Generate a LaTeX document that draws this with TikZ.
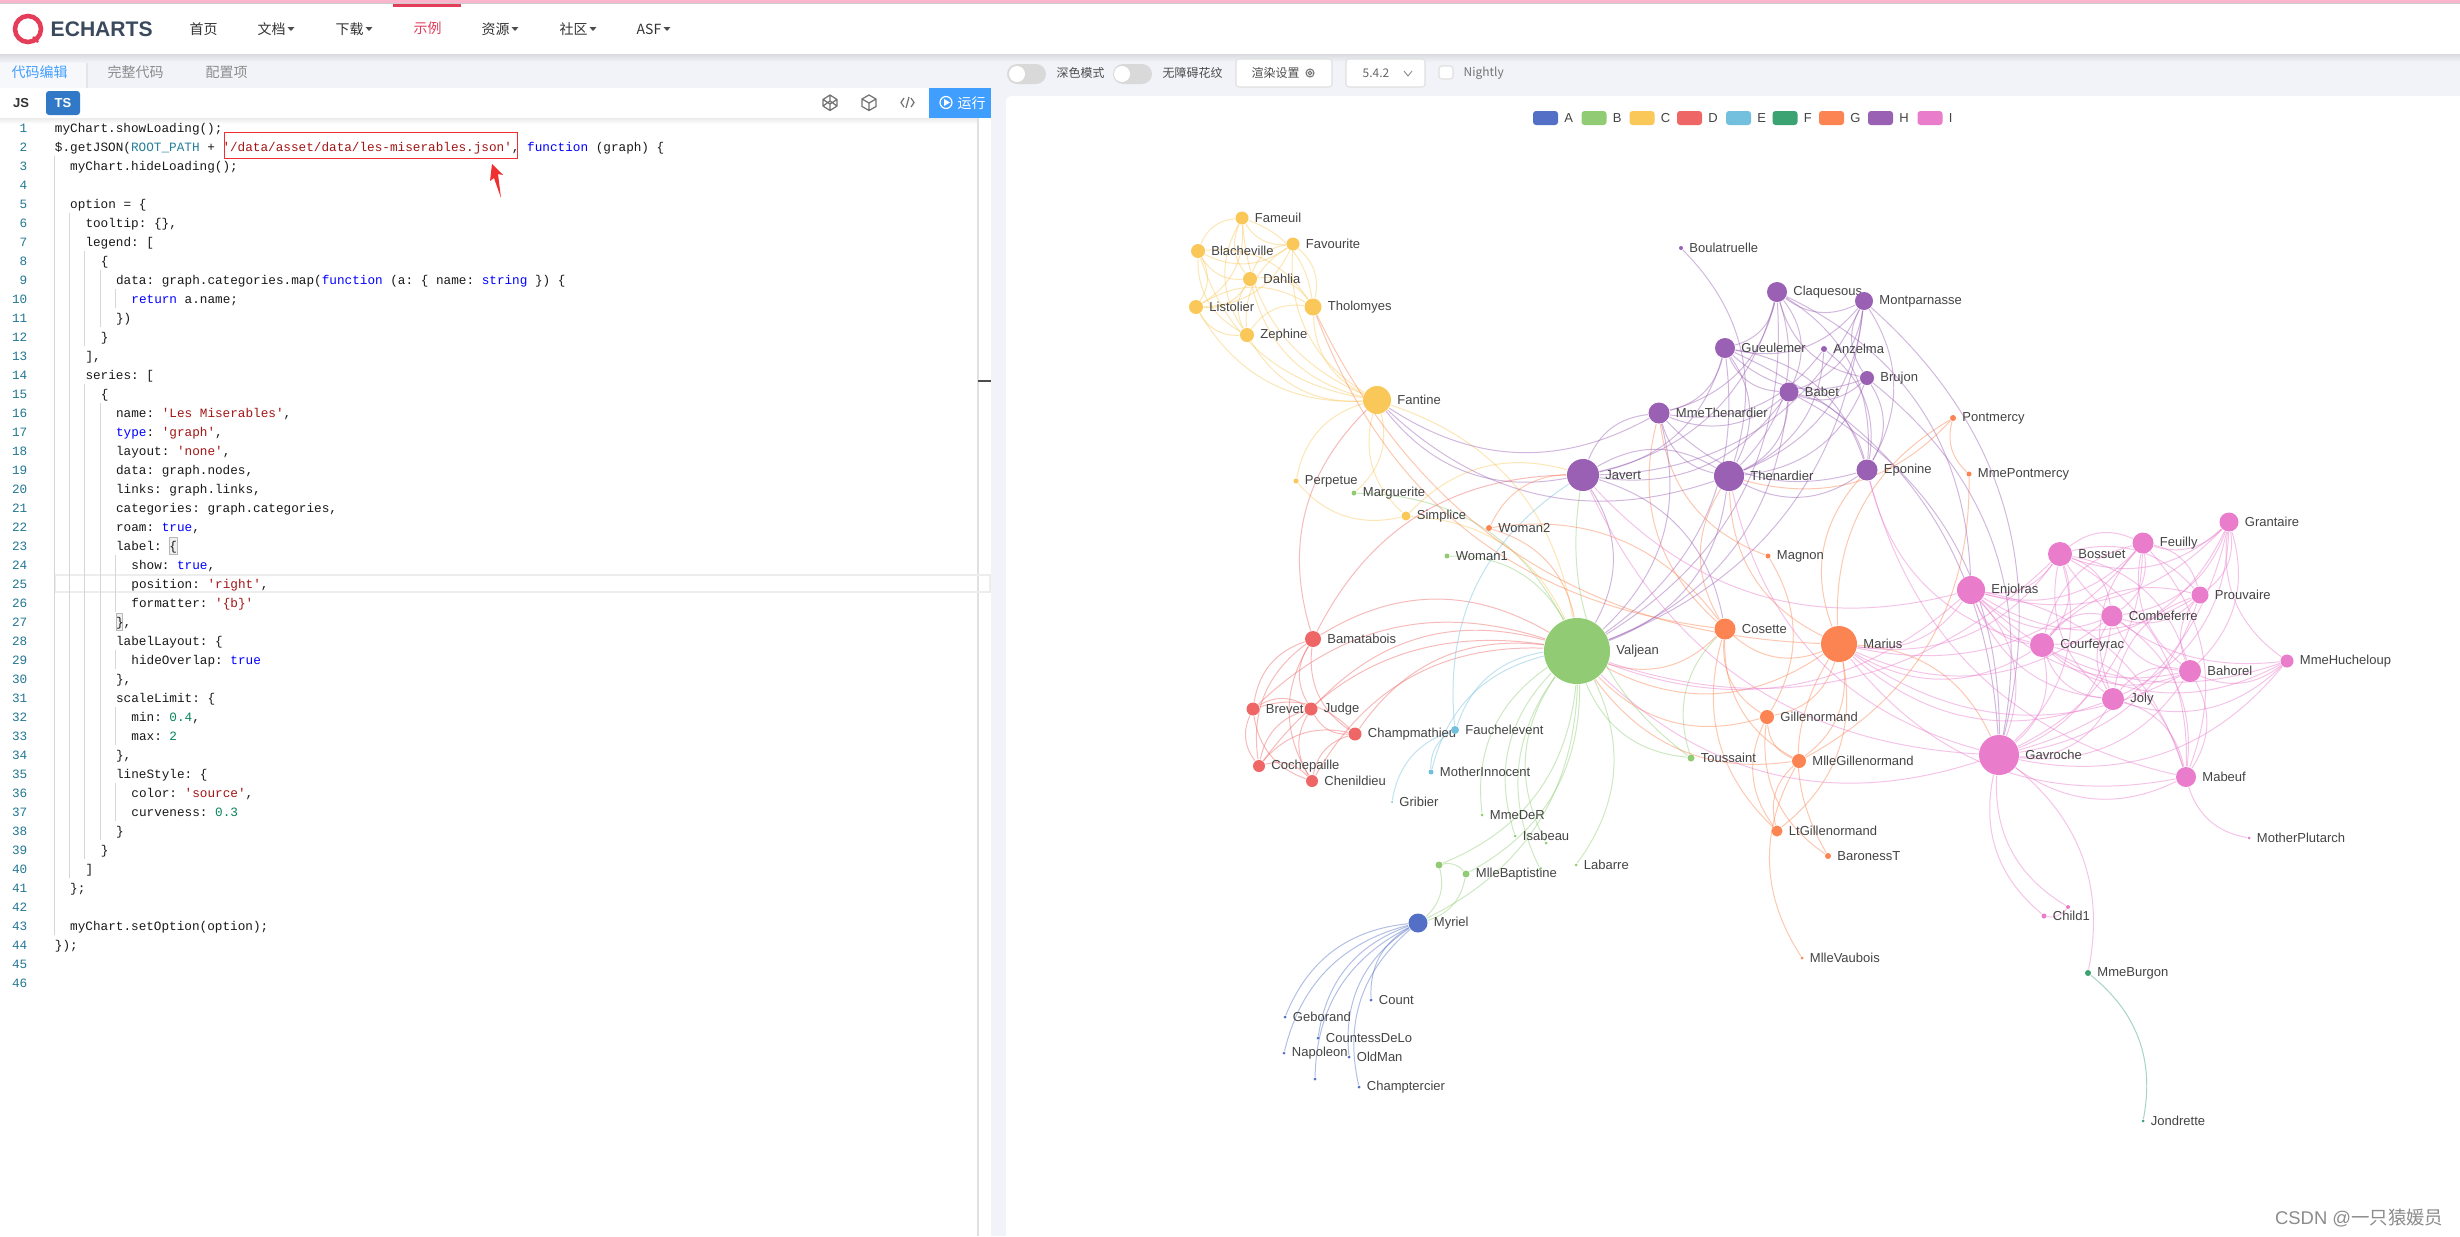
\documentclass[tikz,border=0pt]{standalone}
\usepackage{fontspec}
\setmainfont{Liberation Sans}
\setmonofont{Liberation Mono}
\newfontfamily\cjk{Noto Sans CJK SC}
\usetikzlibrary{calc}

\definecolor{colA}{HTML}{5470C6}
\definecolor{colB}{HTML}{91CC75}
\definecolor{colC}{HTML}{FAC858}
\definecolor{colD}{HTML}{EE6666}
\definecolor{colE}{HTML}{73C0DE}
\definecolor{colF}{HTML}{3BA272}
\definecolor{colG}{HTML}{FC8452}
\definecolor{colH}{HTML}{9A60B4}
\definecolor{colI}{HTML}{EA7CCC}
\definecolor{pagebg}{HTML}{F1F3F8}
\definecolor{navshade}{HTML}{D9DBE0}
\definecolor{brand}{HTML}{E43C59}
\definecolor{strip}{HTML}{FBB6CE}
\definecolor{logotext}{HTML}{3A4A5C}
\definecolor{tsblue}{HTML}{3178C6}
\definecolor{markred}{HTML}{F03030}
\definecolor{btnblue}{HTML}{409EFF}
\definecolor{kwblue}{HTML}{0000FF}
\definecolor{strred}{HTML}{A31515}
\definecolor{numteal}{HTML}{098658}
\definecolor{typeteal}{HTML}{267F99}
\definecolor{gutter}{HTML}{237893}
\definecolor{guide}{HTML}{D6D6D6}
\definecolor{labelgray}{HTML}{444444}

\newcommand{\kwd}[1]{\textcolor{kwblue}{#1}}
\newcommand{\strg}[1]{\textcolor{strred}{#1}}
\newcommand{\numb}[1]{\textcolor{numteal}{#1}}
\newcommand{\codeline}[3]{\node[codetext] (code#1) at ({54.2+7.65*#2},{132+19*(#1-1)}) {#3};}
\newcommand{\linksof}[3]{\foreach \t in {#3} \draw[link,#1] (#2) to[bend left=31] (\t);}

\pgfdeclarelayer{panel}
\pgfdeclarelayer{links}
\pgfsetlayers{panel,links,main}

\begin{document}
\begin{tikzpicture}
  [x=0.01cm,y=-0.01cm,
  dot/.style={circle,draw=none,inner sep=0pt,minimum size=#1*0.2mm},
  nodeA/.style={fill=colA},nodeB/.style={fill=colB},nodeC/.style={fill=colC},
  nodeD/.style={fill=colD},nodeE/.style={fill=colE},nodeF/.style={fill=colF},
  nodeG/.style={fill=colG},nodeH/.style={fill=colH},nodeI/.style={fill=colI},
  every label/.style={font=\fontsize{3.7}{4.4}\selectfont,text=labelgray,inner sep=0pt},
  label distance=0.05cm,
  link/.style={line width=0.28pt,opacity=0.45},
  legendkey/.style={draw=none,inner sep=0pt,minimum width=0.25cm,minimum height=0.14cm,rounded corners=0.03cm},
  codetext/.style={anchor=base west,inner sep=0pt,text=black!90,font=\ttfamily\fontsize{3.61}{4.4}\selectfont},
  linenum/.style={anchor=base east,inner sep=0pt,text=gutter,font=\ttfamily\fontsize{3.61}{4.4}\selectfont},
  navtext/.style={anchor=west,inner sep=0pt,text=black!80,font=\cjk\fontsize{3.97}{4.4}\selectfont},
  tabtext/.style={anchor=west,inner sep=0pt,text=black!45,font=\cjk\fontsize{3.97}{4.4}\selectfont},
  bartext/.style={anchor=west,inner sep=0pt,text=black!70,font=\cjk\fontsize{3.4}{4}\selectfont},
  barbox/.style={draw=black!12,fill=white,rounded corners=0.03cm,line width=0.3pt},
  toggle/.style={fill=black!15,rounded corners=0.1cm},
  icon/.style={draw=black!55,line width=0.35pt},
  navtri/.style={fill=black!70}]
  \useasboundingbox (0,0) rectangle (2460,1236);

  % page frame
  \begin{pgfonlayer}{panel}
  \fill[white] (0,0) rectangle (2460,1236);
  \fill[pagebg] (991,54) rectangle (2460,1236);
  \fill[white,rounded corners=0.05cm] (1006,96) rectangle (2480,1260);
  \fill[pagebg] (0,54) rectangle (991,88);
  \fill[pagebg!60!white] (0,54) rectangle (87,88);
  \draw[black!10,line width=0.3pt] (87,54) -- (87,88);
  \shade[top color=navshade,bottom color=pagebg] (0,54) rectangle (2460,62);
  \shade[top color=black!8,bottom color=white] (0,118) rectangle (978,124);
  \fill[strip] (0,0) rectangle (2460,3);
  \fill[black!20] (0,3) rectangle (2460,4);
  \fill[brand] (393,4) rectangle (461,7);
  \fill[btnblue] (929,88) rectangle (991,118);
  \draw[black!12,line width=0.3pt] (978,118) -- (978,1236);
  \fill[black!70] (978,380) rectangle (991,382);
  % code editor marks
  \draw[black!7,line width=0.55pt] (55,575) rectangle (990,592);
  \draw[black!28,fill=black!6,line width=0.25pt] (169,537) rectangle (177,554);
  \draw[black!28,fill=black!6,line width=0.25pt] (116,613) rectangle (122,630);
  \foreach \k/\a/\b in {0/3/43,1/6/40,2/8/12,2/15/39,3/9/11,3/16/38,4/10/10,4/24/26,4/29/29,4/32/33,4/36/37}
    \draw[guide,line width=0.28pt] ({54.2+15.3*\k},{118+19*(\a-1)}) -- ({54.2+15.3*\k},{118+19*\b});
  \end{pgfonlayer}

  % top bar
  \draw[brand,line width=1.3pt] (28,29) circle (13);
  \draw[brand,line width=0.8pt] (33,37) -- (38,42);
  \node[anchor=west,inner sep=0pt,font=\bfseries\fontsize{6}{7}\selectfont,text=logotext] (logo) at (50,29) {ECHARTS};
  \node[navtext] (nav1) at (189,29) {首页};
  \node[navtext] (nav2) at (257,29) {文档};
  \node[navtext] (nav3) at (335,29) {下载};
  \node[navtext,text=brand] (nav4) at (413,28) {示例};
  \node[navtext] (nav5) at (481,29) {资源};
  \node[navtext] (nav6) at (559,29) {社区};
  \node[navtext] (nav7) at (636,29) {ASF};
  \foreach \x in {291,369,515,593,667}
    \fill[navtri] (\x-3.5,27) -- (\x+3.5,27) -- (\x,31) -- cycle;

  % tabs
  \node[tabtext,text=btnblue] (tab1) at (11,72) {代码编辑};
  \node[tabtext] (tab2) at (107,72) {完整代码};
  \node[tabtext] (tab3) at (205,72) {配置项};
  \node[inner sep=0pt,font=\bfseries\fontsize{3.7}{4.4}\selectfont,text=black!80] (js) at (21,103) {JS};
  \fill[tsblue,rounded corners=0.03cm] (46,91) rectangle (80,115);
  \node[inner sep=0pt,font=\bfseries\fontsize{3.7}{4.4}\selectfont,text=white] (ts) at (63,103) {TS};

  % toolbar icons
  \draw[icon] (830,95) -- (837,99.5) -- (837,106) -- (830,110.5) -- (823,106) -- (823,99.5) -- cycle
    (823,99.5) -- (830,104) -- (837,99.5) (823,106) -- (830,101) -- (837,106) (830,95) -- (830,101) (830,104) -- (830,110.5);
  \draw[icon] (869,95) -- (876,99) -- (876,106.5) -- (869,110.5) -- (862,106.5) -- (862,99) -- cycle
    (862,99) -- (869,103) -- (876,99) (869,103) -- (869,110.5);
  \draw[icon] (904,98) -- (901,102.5) -- (904,107) (909,97) -- (906,108) (911,98) -- (914,102.5) -- (911,107);
  \draw[white,line width=0.35pt] (946,102.5) circle (6);
  \fill[white] (944,99) -- (950,102.5) -- (944,106) -- cycle;
  \node[tabtext,text=white] (run) at (957,103) {运行};

  % code
  \foreach \n in {1,...,46}
    \node[linenum] (num\n) at (28,{132+19*(\n-1)}) {\n};
  \codeline{1}{0}{myChart.showLoading();}
  \codeline{2}{0}{\$.getJSON(\textcolor{typeteal}{ROOT\_PATH} + \strg{'/data/asset/data/les-miserables.json'}, \kwd{function} (graph) \{}
  \codeline{3}{2}{myChart.hideLoading();}
  \codeline{5}{2}{option = \{}
  \codeline{6}{4}{tooltip: \{\},}
  \codeline{7}{4}{legend: [}
  \codeline{8}{6}{\{}
  \codeline{9}{8}{data: graph.categories.map(\kwd{function} (a: \{ name: \kwd{string} \}) \{}
  \codeline{10}{10}{\kwd{return} a.name;}
  \codeline{11}{8}{\})}
  \codeline{12}{6}{\}}
  \codeline{13}{4}{],}
  \codeline{14}{4}{series: [}
  \codeline{15}{6}{\{}
  \codeline{16}{8}{name: \strg{'Les Miserables'},}
  \codeline{17}{8}{\kwd{type}: \strg{'graph'},}
  \codeline{18}{8}{layout: \strg{'none'},}
  \codeline{19}{8}{data: graph.nodes,}
  \codeline{20}{8}{links: graph.links,}
  \codeline{21}{8}{categories: graph.categories,}
  \codeline{22}{8}{roam: \kwd{true},}
  \codeline{23}{8}{label: \{}
  \codeline{24}{10}{show: \kwd{true},}
  \codeline{25}{10}{position: \strg{'right'},}
  \codeline{26}{10}{formatter: \strg{'\{b\}'}}
  \codeline{27}{8}{\},}
  \codeline{28}{8}{labelLayout: \{}
  \codeline{29}{10}{hideOverlap: \kwd{true}}
  \codeline{30}{8}{\},}
  \codeline{31}{8}{scaleLimit: \{}
  \codeline{32}{10}{min: \numb{0.4},}
  \codeline{33}{10}{max: \numb{2}}
  \codeline{34}{8}{\},}
  \codeline{35}{8}{lineStyle: \{}
  \codeline{36}{10}{color: \strg{'source'},}
  \codeline{37}{10}{curveness: \numb{0.3}}
  \codeline{38}{8}{\}}
  \codeline{39}{6}{\}}
  \codeline{40}{4}{]}
  \codeline{41}{2}{\};}
  \codeline{43}{2}{myChart.setOption(option);}
  \codeline{44}{0}{\});}

  % red mark on the path
  \draw[markred,line width=0.28pt] (224.5,132) rectangle (517,158);
  \fill[markred] (492,164) -- (503,175) -- (498,174) -- (501,198) -- (494,178) -- (490,181) -- cycle;

  % demo bar
  \fill[toggle] (1007,64) rectangle (1046,84);
  \fill[white] (1017,74) circle (8);
  \fill[toggle] (1113,64) rectangle (1152,84);
  \fill[white] (1122,74) circle (8);
  \node[bartext] (dark) at (1056,73) {深色模式};
  \node[bartext] (decal) at (1162,73) {无障碍花纹};
  \draw[barbox] (1236,59) rectangle (1332,87);
  \node[bartext] (render) at (1251,73) {渲染设置};
  \draw[black!55,line width=0.3pt] (1310,73) circle (4) (1310,73) circle (1.8);
  \draw[barbox] (1346,59) rectangle (1425,87);
  \node[bartext,text=black!60] (version) at (1362,73) {5.4.2};
  \draw[black!45,line width=0.25pt] (1404,71) -- (1408,76) -- (1412,71);
  \draw[barbox] (1439,66) rectangle (1453,79);
  \node[bartext,text=black!55] (nightly) at (1463,73) {Nightly};

  % legend
  \node[legendkey,fill=colA,label=right:A] (keyA) at (1545.5,118) {};
  \node[legendkey,fill=colB,label=right:B] (keyB) at (1594,118) {};
  \node[legendkey,fill=colC,label=right:C] (keyC) at (1642,118) {};
  \node[legendkey,fill=colD,label=right:D] (keyD) at (1689.5,118) {};
  \node[legendkey,fill=colE,label=right:E] (keyE) at (1738.5,118) {};
  \node[legendkey,fill=colF,label=right:F] (keyF) at (1785,118) {};
  \node[legendkey,fill=colG,label=right:G] (keyG) at (1831.5,118) {};
  \node[legendkey,fill=colH,label=right:H] (keyH) at (1880.5,118) {};
  \node[legendkey,fill=colI,label=right:I] (keyI) at (1930,118) {};

  % characters
  \node[dot=9.5,nodeA,label=right:Myriel] (Myriel) at (1418,923) {};
  \node[dot=1.5,nodeA,label=right:Napoleon] (Napoleon) at (1284,1053) {};
  \node[dot=1.5,nodeA,label=right:CountessDeLo] (CountessDeLo) at (1318,1038) {};
  \node[dot=1.5,nodeA,label=right:Geborand] (Geborand) at (1285,1017) {};
  \node[dot=1.5,nodeA,label=right:Champtercier] (Champtercier) at (1359,1087) {};
  \node[dot=1.5,nodeA] (Cravatte) at (1315,1079) {};
  \node[dot=1.5,nodeA,label=right:Count] (Count) at (1371,1000) {};
  \node[dot=1.5,nodeA,label=right:OldMan] (OldMan) at (1349,1057) {};

  \node[dot=3.5,nodeB,label=right:MlleBaptistine] (MlleBaptistine) at (1466,874) {};
  \node[dot=3.5,nodeB] (MmeMagloire) at (1439,865) {};
  \node[dot=1.5,nodeB,label=right:Labarre] (Labarre) at (1576,865) {};
  \node[dot=33,nodeB,label=right:Valjean] (Valjean) at (1577,651) {};
  \node[dot=2.5,nodeB,label=right:Marguerite] (Marguerite) at (1354,493) {};
  \node[dot=1.5,nodeB,label=right:MmeDeR] (MmeDeR) at (1482,815) {};
  \node[dot=1.5,nodeB,label=right:Isabeau] (Isabeau) at (1515,836) {};
  \node[dot=1.5,nodeB] (Gervais) at (1546,843) {};
  \node[dot=1.5,nodeB] (Scaufflaire) at (1540,869) {};
  \node[dot=2.5,nodeB,label=right:Woman1] (Woman1) at (1447,556) {};
  \node[dot=3.5,nodeB,label=right:Toussaint] (Toussaint) at (1691,758) {};

  \node[dot=8.5,nodeC,label=right:Tholomyes] (Tholomyes) at (1313,307) {};
  \node[dot=7,nodeC,label=right:Listolier] (Listolier) at (1196,307) {};
  \node[dot=6.5,nodeC,label=right:Fameuil] (Fameuil) at (1242,218) {};
  \node[dot=7,nodeC,label=right:Blacheville] (Blacheville) at (1198,251) {};
  \node[dot=6.5,nodeC,label=right:Favourite] (Favourite) at (1293,244) {};
  \node[dot=7,nodeC,label=right:Dahlia] (Dahlia) at (1250,279) {};
  \node[dot=7,nodeC,label=right:Zephine] (Zephine) at (1247,335) {};
  \node[dot=14,nodeC,label=right:Fantine] (Fantine) at (1377,400) {};
  \node[dot=2.5,nodeC,label=right:Perpetue] (Perpetue) at (1296,481) {};
  \node[dot=4.5,nodeC,label=right:Simplice] (Simplice) at (1406,516) {};

  \node[dot=8,nodeD,label=right:Bamatabois] (Bamatabois) at (1313,639) {};
  \node[dot=6.5,nodeD,label=right:Judge] (Judge) at (1311,709) {};
  \node[dot=6.5,nodeD,label=right:Champmathieu] (Champmathieu) at (1355,734) {};
  \node[dot=6.5,nodeD,label=right:Brevet] (Brevet) at (1253,709) {};
  \node[dot=6,nodeD,label=right:Chenildieu] (Chenildieu) at (1312,781) {};
  \node[dot=6,nodeD,label=right:Cochepaille] (Cochepaille) at (1259,766) {};

  \node[dot=4,nodeE,label=right:Fauchelevent] (Fauchelevent) at (1455,730) {};
  \node[dot=2.5,nodeE,label=right:MotherInnocent] (MotherInnocent) at (1431,772) {};
  \node[dot=1,nodeE,label=right:Gribier] (Gribier) at (1392,802) {};

  \node[dot=1.5,nodeF,label=right:Jondrette] (Jondrette) at (2143,1121) {};
  \node[dot=3,nodeF,label=right:MmeBurgon] (MmeBurgon) at (2088,973) {};

  \node[dot=10.5,nodeG,label=right:Cosette] (Cosette) at (1725,629) {};
  \node[dot=3,nodeG,label=right:Woman2] (Woman2) at (1489,528) {};
  \node[dot=7,nodeG,label=right:Gillenormand] (Gillenormand) at (1767,717) {};
  \node[dot=2.5,nodeG,label=right:Magnon] (Magnon) at (1768,556) {};
  \node[dot=7,nodeG,label=right:MlleGillenormand] (MlleGillenormand) at (1799,761) {};
  \node[dot=2.5,nodeG,label=right:MmePontmercy] (MmePontmercy) at (1969,474) {};
  \node[dot=1.5,nodeG,label=right:MlleVaubois] (MlleVaubois) at (1802,958) {};
  \node[dot=5.5,nodeG,label=right:LtGillenormand] (LtGillenormand) at (1777,831) {};
  \node[dot=18,nodeG,label=right:Marius] (Marius) at (1839,644) {};
  \node[dot=3,nodeG,label=right:BaronessT] (BaronessT) at (1828,856) {};
  \node[dot=3,nodeG,label=right:Pontmercy] (Pontmercy) at (1953,418) {};

  \node[dot=10.5,nodeH,label=right:MmeThenardier] (MmeThenardier) at (1659,413) {};
  \node[dot=15,nodeH,label=right:Thenardier] (Thenardier) at (1729,476) {};
  \node[dot=16,nodeH,label=right:Javert] (Javert) at (1583,475) {};
  \node[dot=2,nodeH,label=right:Boulatruelle] (Boulatruelle) at (1681,248) {};
  \node[dot=10.5,nodeH,label=right:Eponine] (Eponine) at (1867,470) {};
  \node[dot=3,nodeH,label=right:Anzelma] (Anzelma) at (1824,349) {};
  \node[dot=10,nodeH,label=right:Gueulemer] (Gueulemer) at (1725,348) {};
  \node[dot=9.5,nodeH,label=right:Babet] (Babet) at (1789,392) {};
  \node[dot=10,nodeH,label=right:Claquesous] (Claquesous) at (1777,292) {};
  \node[dot=9,nodeH,label=right:Montparnasse] (Montparnasse) at (1864,301) {};
  \node[dot=7,nodeH,label=right:Brujon] (Brujon) at (1867,378) {};

  \node[dot=20,nodeI,label=right:Gavroche] (Gavroche) at (1999,755) {};
  \node[dot=10,nodeI,label=right:Mabeuf] (Mabeuf) at (2186,777) {};
  \node[dot=14,nodeI,label=right:Enjolras] (Enjolras) at (1971,590) {};
  \node[dot=10.5,nodeI,label=right:Combeferre] (Combeferre) at (2112,616) {};
  \node[dot=8.5,nodeI,label=right:Prouvaire] (Prouvaire) at (2200,595) {};
  \node[dot=10.5,nodeI,label=right:Feuilly] (Feuilly) at (2143,543) {};
  \node[dot=12,nodeI,label=right:Courfeyrac] (Courfeyrac) at (2042,645) {};
  \node[dot=11,nodeI,label=right:Bahorel] (Bahorel) at (2190,671) {};
  \node[dot=12,nodeI,label=right:Bossuet] (Bossuet) at (2060,554) {};
  \node[dot=11,nodeI,label=right:Joly] (Joly) at (2113,699) {};
  \node[dot=9.5,nodeI,label=right:Grantaire] (Grantaire) at (2229,522) {};
  \node[dot=1.5,nodeI,label=right:MotherPlutarch] (MotherPlutarch) at (2249,838) {};
  \node[dot=2.5,nodeI,label=right:Child1] (Child1) at (2044,916) {};
  \node[dot=2,nodeI] (Child2) at (2068,907) {};
  \node[dot=6.5,nodeI,label=right:MmeHucheloup] (MmeHucheloup) at (2287,661) {};

  % links, coloured by their source
  \begin{pgfonlayer}{links}
  \linksof{colA}{Napoleon}{Myriel}
  \linksof{colA}{CountessDeLo}{Myriel}
  \linksof{colA}{Geborand}{Myriel}
  \linksof{colA}{Champtercier}{Myriel}
  \linksof{colA}{Cravatte}{Myriel}
  \linksof{colA}{Count}{Myriel}
  \linksof{colA}{OldMan}{Myriel}

  \linksof{colB}{MlleBaptistine}{Myriel}
  \linksof{colB}{MmeMagloire}{Myriel,MlleBaptistine}
  \linksof{colB}{Valjean}{Labarre,MmeMagloire,MlleBaptistine,Myriel}
  \linksof{colB}{Marguerite}{Valjean}
  \linksof{colB}{MmeDeR}{Valjean}
  \linksof{colB}{Isabeau}{Valjean}
  \linksof{colB}{Gervais}{Valjean}
  \linksof{colB}{Scaufflaire}{Valjean}
  \linksof{colB}{Woman1}{Valjean}
  \linksof{colB}{Toussaint}{Cosette,Javert,Valjean}

  \linksof{colC}{Listolier}{Tholomyes}
  \linksof{colC}{Fameuil}{Tholomyes,Listolier}
  \linksof{colC}{Blacheville}{Tholomyes,Listolier,Fameuil}
  \linksof{colC}{Favourite}{Tholomyes,Listolier,Fameuil,Blacheville}
  \linksof{colC}{Dahlia}{Tholomyes,Listolier,Fameuil,Blacheville,Favourite}
  \linksof{colC}{Zephine}{Tholomyes,Listolier,Fameuil,Blacheville,Favourite,Dahlia}
  \linksof{colC}{Fantine}{Tholomyes,Listolier,Fameuil,Blacheville,Favourite,Dahlia,Zephine,Marguerite,Valjean}
  \linksof{colC}{Perpetue}{Fantine}
  \linksof{colC}{Simplice}{Perpetue,Valjean,Fantine,Javert}

  \linksof{colD}{Bamatabois}{Fantine,Javert,Valjean}
  \linksof{colD}{Judge}{Valjean,Bamatabois}
  \linksof{colD}{Champmathieu}{Judge,Bamatabois,Valjean}
  \linksof{colD}{Brevet}{Champmathieu,Judge,Valjean,Bamatabois}
  \linksof{colD}{Chenildieu}{Brevet,Champmathieu,Judge,Valjean,Bamatabois}
  \linksof{colD}{Cochepaille}{Chenildieu,Brevet,Champmathieu,Judge,Valjean,Bamatabois}

  \linksof{colE}{Fauchelevent}{Valjean,Javert}
  \linksof{colE}{MotherInnocent}{Fauchelevent,Valjean}
  \linksof{colE}{Gribier}{Fauchelevent}

  \linksof{colF}{MmeBurgon}{Jondrette}

  \linksof{colG}{Cosette}{MmeThenardier,Valjean,Tholomyes,Thenardier}
  \linksof{colG}{Woman2}{Valjean,Cosette,Javert}
  \linksof{colG}{Gillenormand}{Cosette,Valjean}
  \linksof{colG}{Magnon}{Gillenormand,MmeThenardier}
  \linksof{colG}{MlleGillenormand}{Gillenormand,Cosette,Valjean}
  \linksof{colG}{MmePontmercy}{MlleGillenormand,Pontmercy}
  \linksof{colG}{MlleVaubois}{MlleGillenormand}
  \linksof{colG}{LtGillenormand}{MlleGillenormand,Gillenormand,Cosette}
  \linksof{colG}{Marius}{MlleGillenormand,Gillenormand,Pontmercy,LtGillenormand,Cosette,Valjean,Tholomyes,Thenardier,Eponine,Gavroche}
  \linksof{colG}{BaronessT}{Gillenormand,Marius}
  \linksof{colG}{Pontmercy}{Thenardier}

  \linksof{colH}{MmeThenardier}{Fantine,Valjean}
  \linksof{colH}{Thenardier}{MmeThenardier,Fantine,Valjean}
  \linksof{colH}{Javert}{Valjean,Fantine,Thenardier,MmeThenardier,Cosette}
  \linksof{colH}{Boulatruelle}{Thenardier}
  \linksof{colH}{Eponine}{MmeThenardier,Thenardier}
  \linksof{colH}{Anzelma}{Eponine,Thenardier,MmeThenardier}
  \linksof{colH}{Gueulemer}{Thenardier,Valjean,MmeThenardier,Javert,Gavroche,Eponine}
  \linksof{colH}{Babet}{Thenardier,Gueulemer,Valjean,MmeThenardier,Javert,Gavroche,Eponine}
  \linksof{colH}{Claquesous}{Thenardier,Gueulemer,Babet,Valjean,MmeThenardier,Javert,Eponine,Enjolras}
  \linksof{colH}{Montparnasse}{Javert,Babet,Gueulemer,Claquesous,Valjean,Gavroche,Eponine,Thenardier}
  \linksof{colH}{Brujon}{Babet,Gueulemer,Thenardier,Gavroche,Eponine,Claquesous,Montparnasse}

  \linksof{colI}{Gavroche}{MmeBurgon,Thenardier,Javert,Valjean}
  \linksof{colI}{Mabeuf}{Marius,Eponine,Gavroche}
  \linksof{colI}{Enjolras}{Marius,Gavroche,Javert,Mabeuf,Valjean}
  \linksof{colI}{Combeferre}{Enjolras,Marius,Gavroche,Mabeuf}
  \linksof{colI}{Prouvaire}{Gavroche,Enjolras,Combeferre}
  \linksof{colI}{Feuilly}{Gavroche,Enjolras,Prouvaire,Combeferre,Mabeuf,Marius}
  \linksof{colI}{Courfeyrac}{Marius,Enjolras,Combeferre,Gavroche,Mabeuf,Eponine,Feuilly,Prouvaire}
  \linksof{colI}{Bahorel}{Combeferre,Gavroche,Courfeyrac,Mabeuf,Enjolras,Feuilly,Prouvaire,Marius}
  \linksof{colI}{Bossuet}{Marius,Courfeyrac,Gavroche,Bahorel,Enjolras,Feuilly,Prouvaire,Combeferre,Mabeuf,Valjean}
  \linksof{colI}{Joly}{Bahorel,Bossuet,Gavroche,Courfeyrac,Enjolras,Feuilly,Prouvaire,Combeferre,Mabeuf,Marius}
  \linksof{colI}{Grantaire}{Bossuet,Enjolras,Combeferre,Courfeyrac,Joly,Gavroche,Bahorel,Feuilly,Prouvaire}
  \linksof{colI}{MotherPlutarch}{Mabeuf}
  \linksof{colI}{Child1}{Gavroche}
  \linksof{colI}{Child2}{Gavroche,Child1}
  \linksof{colI}{MmeHucheloup}{Bossuet,Joly,Grantaire,Bahorel,Courfeyrac,Gavroche,Enjolras}
  \end{pgfonlayer}

  \node[anchor=east,inner sep=0pt,text=black!45,font=\cjk\fontsize{5.24}{6}\selectfont] (mark) at (2444,1218) {{\rmfamily CSDN @}一只猿媛员};
\end{tikzpicture}
\end{document}
